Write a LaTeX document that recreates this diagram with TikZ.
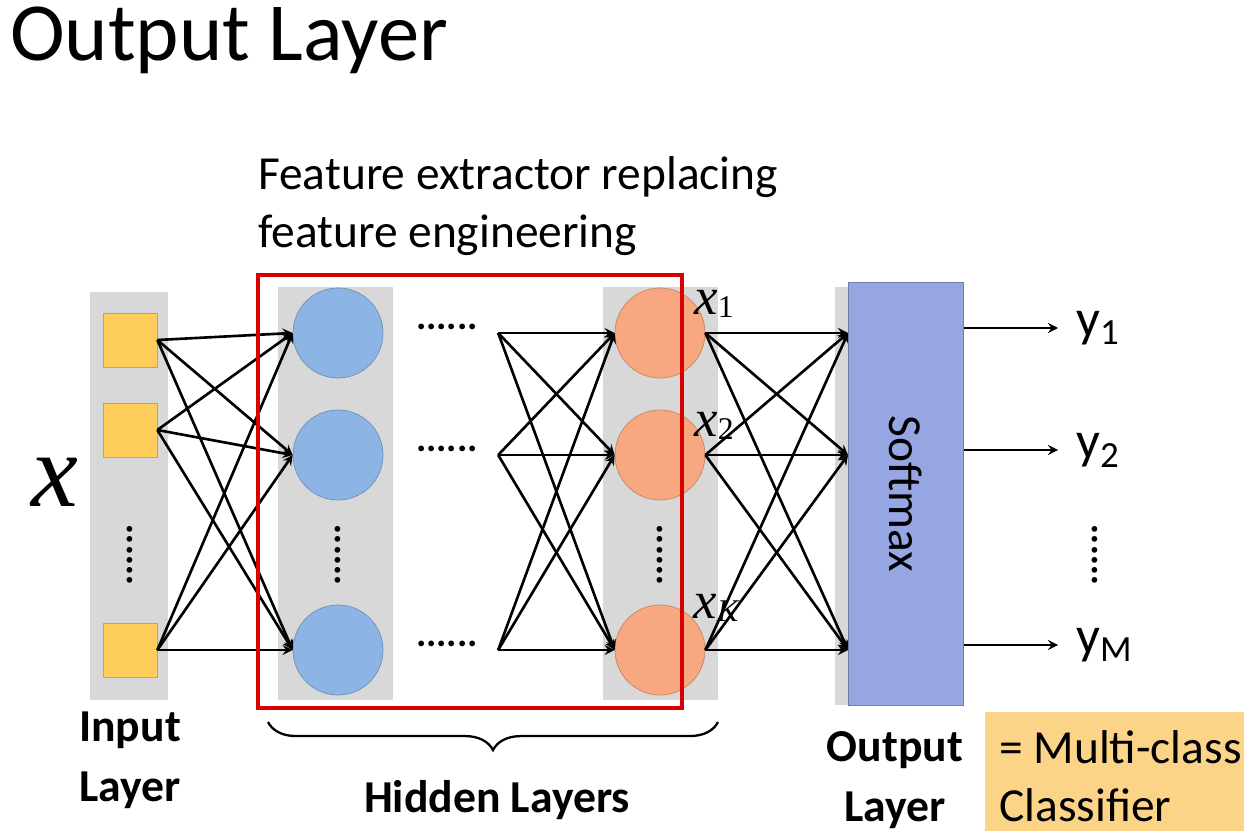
\documentclass[tikz,border=0pt]{standalone}
\usepackage{fontspec}
\setmainfont{Carlito}
\newfontfamily\serifit{Liberation Serif}
\usetikzlibrary{calc,positioning,decorations.pathreplacing}

\definecolor{colgray}{RGB}{216,216,216}
\definecolor{sqyellow}{RGB}{255,206,90}
\definecolor{cblue}{RGB}{140,180,228}
\definecolor{corange}{RGB}{248,168,128}
\definecolor{smblue}{RGB}{150,166,226}
\definecolor{boxyellow}{RGB}{252,212,136}

\tikzset{
  column/.style={fill=colgray,draw=none},
  hid/.style={circle,fill=cblue,draw=cblue!80!black,minimum size=90*0.02cm,inner sep=0},
  outn/.style={circle,fill=corange,draw=corange!80!black,minimum size=90*0.02cm,inner sep=0},
  conn/.style={->,>=stealth,line width=1.5pt,black},
  hdots/.style={font=\fontsize{22}{22}\selectfont\bfseries},
  vdots/.style={font=\fontsize{22}{22}\selectfont\bfseries,rotate=90},
  lab/.style={font=\fontsize{26}{34}\selectfont\bfseries,align=center}
}
\newcommand{\featlab}[1]{{\fontsize{30}{30}\serifit\itshape x}\raisebox{-0.35ex}{\fontsize{18}{18}\serifit#1}}

\begin{document}
\begin{tikzpicture}[x=0.02cm,y=-0.02cm]
\useasboundingbox (0,0) rectangle (1244,831);
\fill[white] (0,0) rectangle (1244,831);

% title and caption
\node[anchor=west,font=\fontsize{47}{47}\selectfont] (title) at (4,40) {Output Layer};
\node[anchor=north west,align=left,font=\fontsize{27}{33}\selectfont] (cap) at (252,150)
  {Feature extractor replacing\\feature engineering};

% grey columns
\fill[column] (90,292) rectangle (168,700);
\fill[column] (278,287) rectangle (393,700);
\fill[column] (603,287) rectangle (718,700);
\fill[column] (835,287) rectangle (850,705);

% input layer
\foreach \i/\y in {1/340,2/430,3/650}
  \node[rectangle,fill=sqyellow,draw=sqyellow!80!black,minimum size=54*0.02cm,inner sep=0] (in\i) at (130,\y) {};
\node[vdots] (indots) at (130,555) {......};
\node[font=\fontsize{60}{60}\serifit\itshape] (xin) at (55,482) {x};

% hidden layers
\foreach \i/\y in {1/333,2/455,3/650} {
  \node[hid] (h\i) at (338,\y) {};
  \node[outn] (o\i) at (660,\y) {};
  \node[hdots] (d\i) at (447,\y-6) {......};
  \coordinate (s\i) at (848,\y);
  \coordinate (y\i) at (1058,\y-5);
}
\node[vdots] (hdotsv) at (338,555) {......};
\node[vdots] (odotsv) at (660,555) {......};

% connections
\foreach \i in {1,2,3}
  \foreach \j in {1,2,3} {
    \draw[conn] (in\i.east) -- (h\j.west);
    \draw[conn] ($(d\i.east)+(14,6)$) -- (o\j.west);
    \draw[conn] (o\i.east) -- (s\j);
  }

% red box
\draw[red!85!black,line width=2.2pt] (258,275) rectangle (682,708);

% output labels
\node at (714,304) {\featlab{1}};
\node at (714,426) {\featlab{2}};
\node at (716,608) {\featlab{\itshape K}};

% softmax
\node[fill=smblue,draw=smblue!75!black,minimum width=115*0.02cm,minimum height=423*0.02cm,anchor=north west] (soft) at (848,282) {};
\node[rotate=-90,font=\fontsize{27}{27}\selectfont] at (soft.center) {Softmax};
\foreach \i/\t in {1/1,2/2,3/M} {
  \draw[conn] (soft.east |- y\i) -- (y\i);
  \node[anchor=west,font=\fontsize{30}{30}\selectfont] at ($(y\i)+(12,0)$) {y\textsubscript{\t}};
}
\node[vdots] (ydots) at (1095,555) {......};

% bottom labels
\node[lab] (inlab) at (130,760) {Input\\Layer};
\draw[decorate,decoration={brace,mirror,amplitude=16pt},line width=1.3pt] (268,722) -- (718,722);
\node[lab] (hidlab) at (497,800) {Hidden Layers};
\node[lab] (outlab) at (895,780) {Output\\Layer};
\node[fill=boxyellow,anchor=north west,minimum width=259*0.02cm,minimum height=119*0.02cm] (mc) at (985,712) {};
\node[anchor=north west,align=left,font=\fontsize{27}{33}\selectfont] at (993,724) {= Multi-class\\Classifier};
\end{tikzpicture}
\end{document}
